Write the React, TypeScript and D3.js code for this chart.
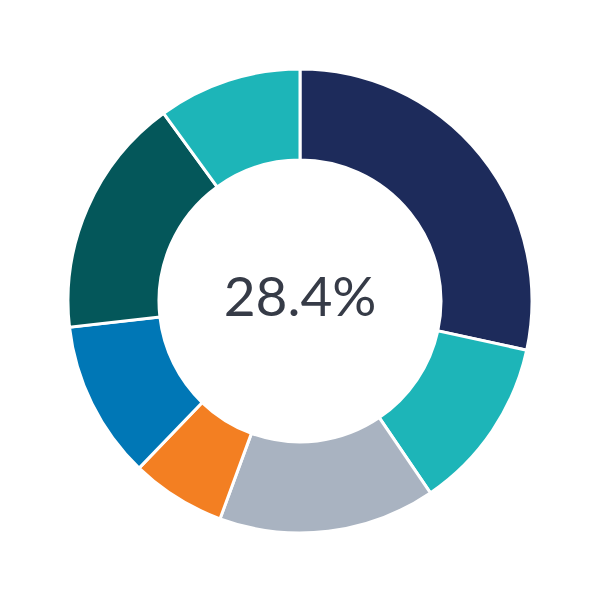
import * as d3 from 'd3';
import React from 'react';

// slice shares, clockwise from 12 o'clock
const labels = ['A', 'B', 'C', 'D', 'E', 'F', 'G'];
const values = [28.4, 12.1, 15.1, 6.6, 11.0, 16.8, 10.0];
const colors = [
  '#1d2b5b',
  '#1db5b8',
  '#a9b3c1',
  '#f37f22',
  '#0077b6',
  '#04575a',
  '#1db5b8'
];
const centerLabel = '28.4%';

const width = 600;
const height = 600;

export default function App() {
  const pie = d3
    .pie<number>()
    .sort(null)
    .value((d) => d);
  const arcs = pie(values);

  const arc = d3.arc<d3.PieArcDatum<number>>().innerRadius(141).outerRadius(232);

  return (
    <svg
      width={width}
      height={height}
      style={{ position: 'absolute', left: 0, top: 0 }}
    >
      <g transform="translate(300,301)">
        {arcs.map((a, i) => (
          <path
            key={labels[i]}
            d={arc(a) || ''}
            fill={colors[i]}
            stroke="#ffffff"
            strokeWidth={3}
          />
        ))}
        <text
          textAnchor="middle"
          dy="0.35em"
          y={-4}
          fontFamily="Lato, sans-serif"
          fontSize={55}
          fill="#363b47"
        >
          {centerLabel}
        </text>
      </g>
    </svg>
  );
}
